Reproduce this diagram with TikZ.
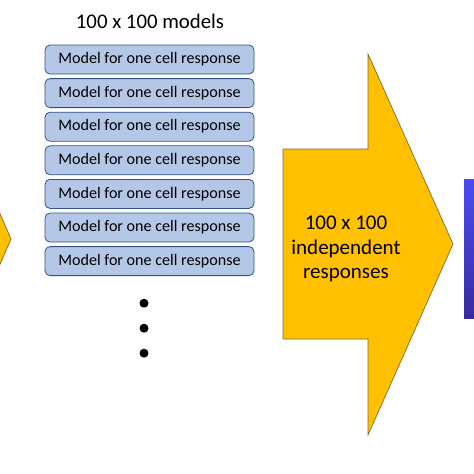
\documentclass[tikz,border=0pt]{standalone}
\usepackage{fontspec}
\setmainfont{Carlito}
\usetikzlibrary{positioning}
\usetikzlibrary{shapes.geometric}
\definecolor{cellfill}{HTML}{B4C7E7}
\definecolor{celldraw}{HTML}{2F528F}
\definecolor{arrowfill}{HTML}{FFC000}
\definecolor{arrowdraw}{HTML}{7A6A3A}
\definecolor{outtop}{HTML}{4B4BF2}
\definecolor{outbot}{HTML}{3A2C9C}
\tikzstyle{cellbox} = [rectangle, rounded corners=5pt, minimum width=209pt, minimum height=29pt, inner sep=0pt, text centered, draw=celldraw, line width=0.8pt, fill=cellfill, font=\fontsize{16.1}{18}\selectfont]
\tikzstyle{dot} = [circle, fill=black, minimum size=9pt, inner sep=0pt]
\tikzstyle{bigarrow} = [fill=arrowfill, draw=arrowdraw, line width=0.7pt]

\begin{document}
\begin{tikzpicture}[x=1pt, y=-1pt, node distance=33.6pt]
  \useasboundingbox (0,0) rectangle (474,474);

  % the stack of cell models
  \node (title) at (150,21) {\fontsize{20.8}{24}\selectfont 100 x 100 models};
  \node (cell1) [cellbox] at (149.5,59.5) {Model for one cell response};
  \node (cell2) [cellbox, below of=cell1] {Model for one cell response};
  \node (cell3) [cellbox, below of=cell2] {Model for one cell response};
  \node (cell4) [cellbox, below of=cell3] {Model for one cell response};
  \node (cell5) [cellbox, below of=cell4] {Model for one cell response};
  \node (cell6) [cellbox, below of=cell5] {Model for one cell response};
  \node (cell7) [cellbox, below of=cell6] {Model for one cell response};

  \node (dot1) [dot, below of=cell7, yshift=-8.5pt, xshift=-5.5pt] {};
  \node (dot2) [dot, below of=dot1, yshift=8.6pt] {};
  \node (dot3) [dot, below of=dot2, yshift=8.6pt] {};

  % incoming arrow tip on the left
  \draw [bigarrow] (-2,209) -- (11,239) -- (-2,269);

  % the big arrow
  \draw [bigarrow] (283,149) -- (368,149) -- (368,54) -- (453,244)
    -- (368,435) -- (368,339) -- (283,339) -- cycle;
  \node (resp) [align=center, font=\fontsize{21}{24.5}\selectfont] at (346,249)
    {100 x 100\\independent\\responses};

  % output image, cut at the edge
  \shade [top color=outtop, bottom color=outbot] (464,179) rectangle (476,318);

\end{tikzpicture}
\end{document}
